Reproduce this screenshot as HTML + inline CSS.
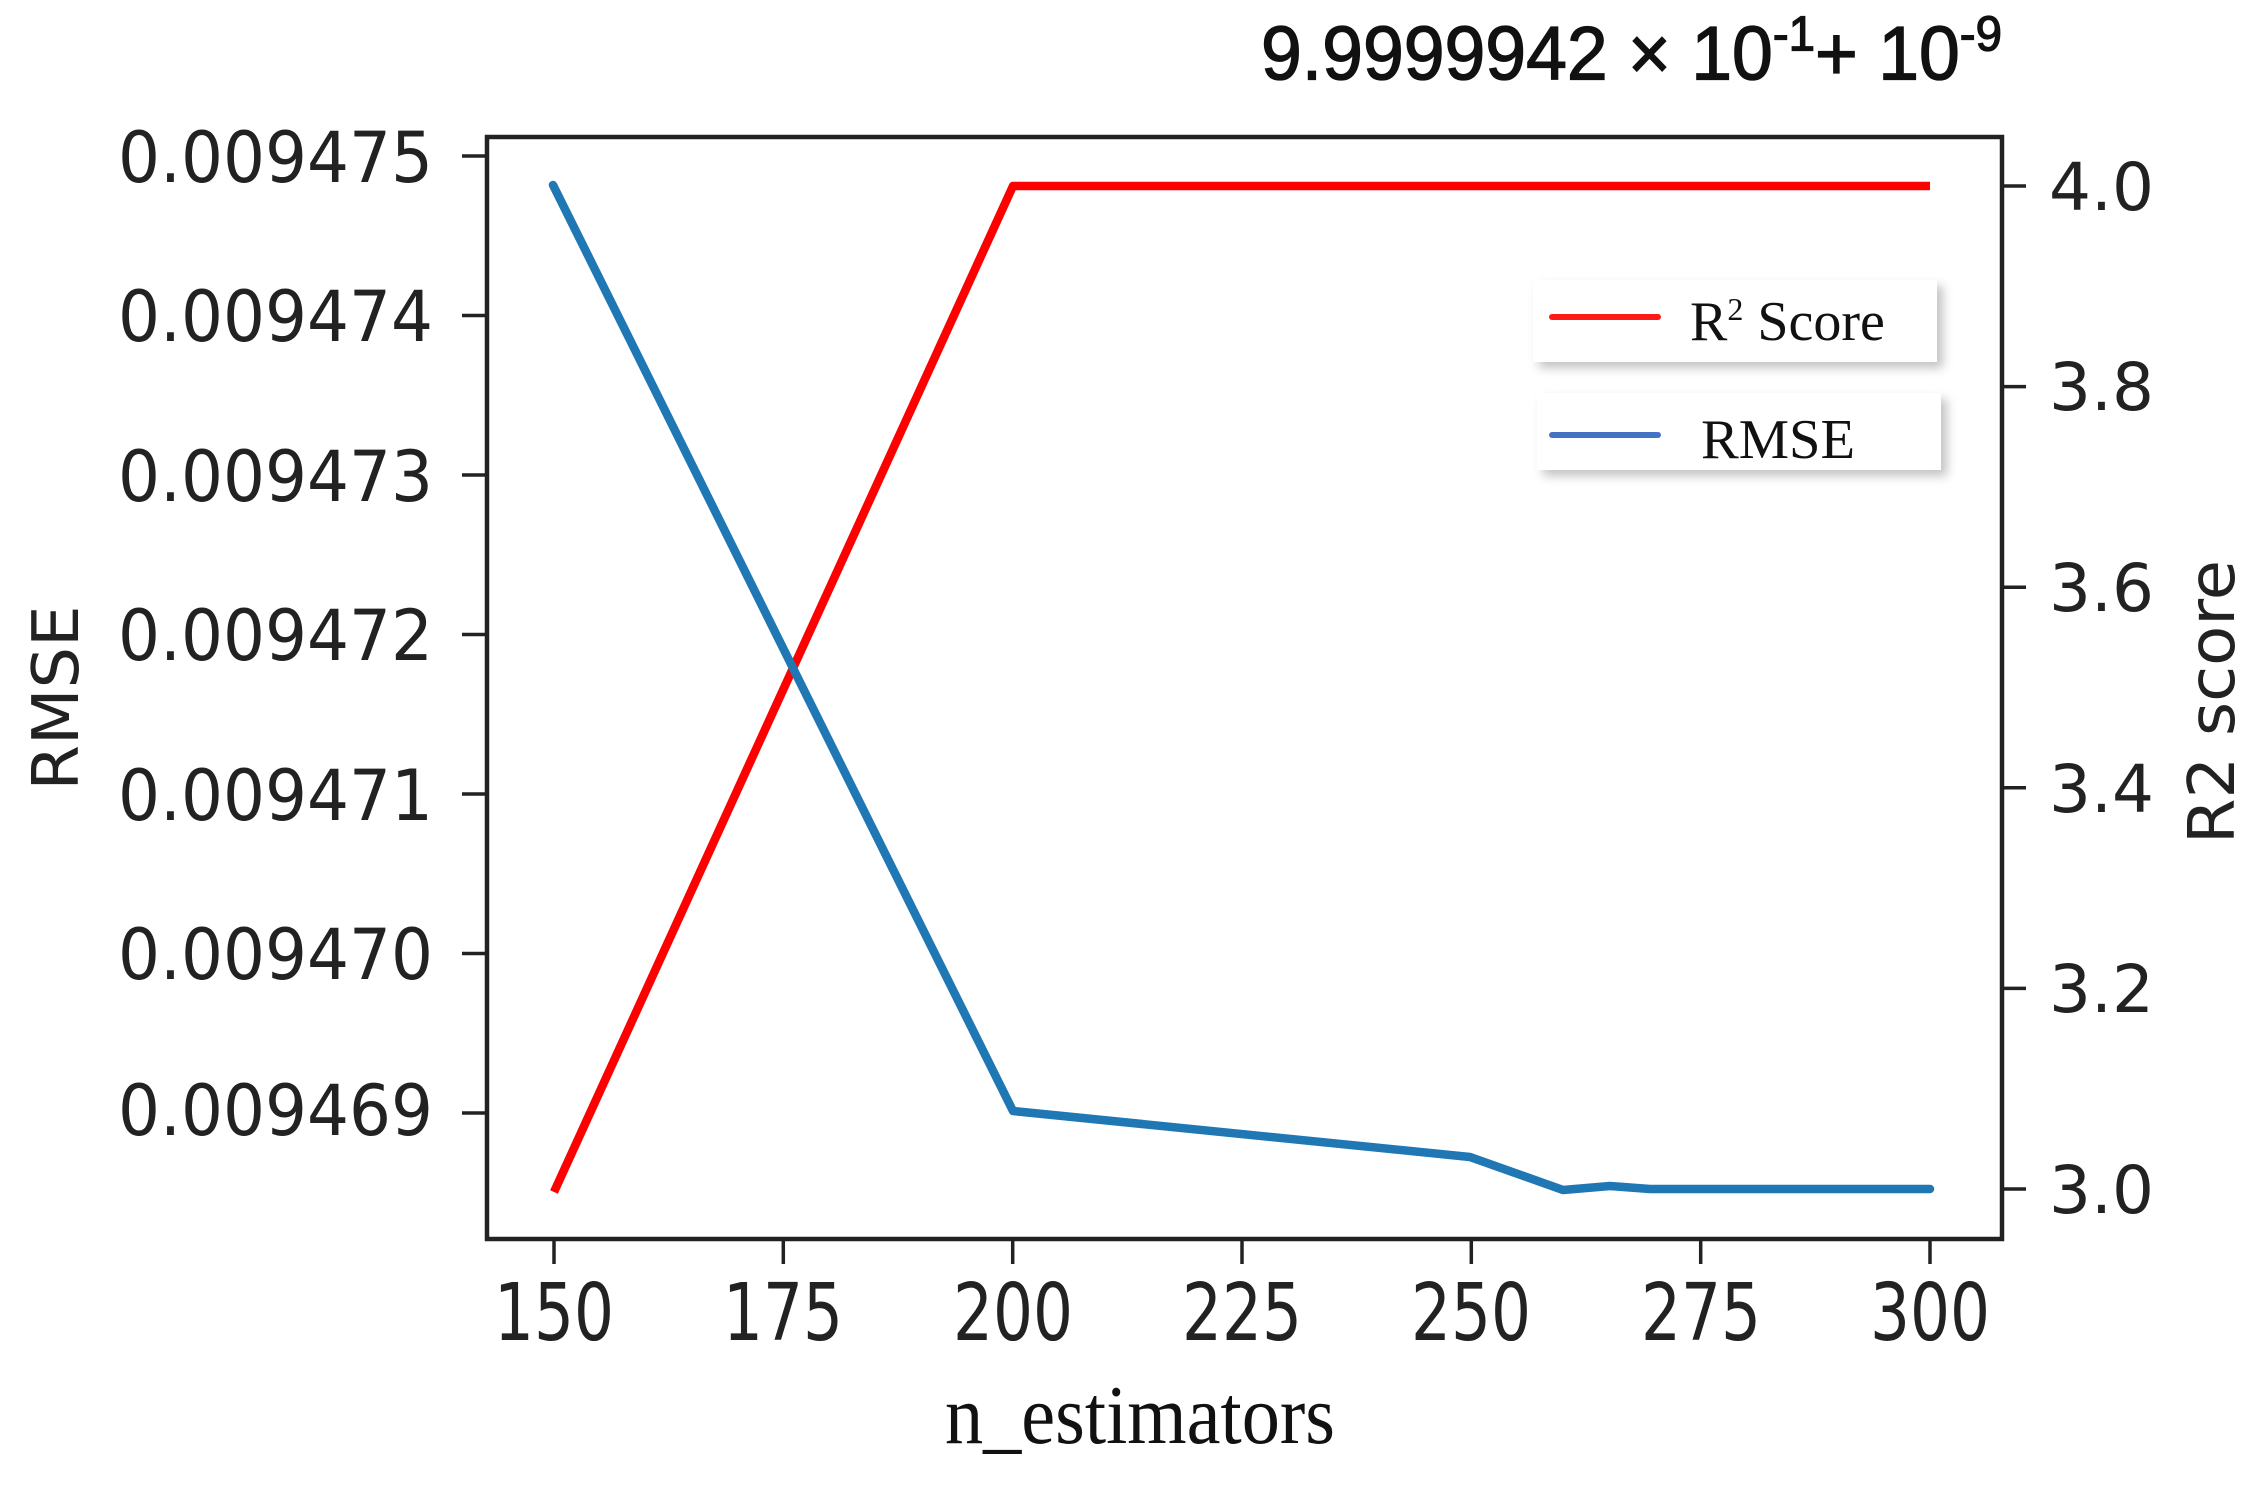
<!DOCTYPE html>
<html><head><meta charset="utf-8"><style>
html,body{margin:0;padding:0;background:#fff;}
svg{display:block;}
</style></head><body>
<svg width="2259" height="1485" viewBox="0 0 2259 1485" xmlns="http://www.w3.org/2000/svg">
<defs>
<filter id="sh" x="-10%" y="-20%" width="130%" height="160%"><feGaussianBlur stdDeviation="5"/></filter>
</defs>
<!-- exponent label -->
<g transform="translate(0,82) scale(1,1.12) translate(0,-82)">
<text x="1261" y="80" font-family="Liberation Sans, sans-serif" font-size="68" fill="#111" stroke="#111" stroke-width="1.2" textLength="741" lengthAdjust="spacingAndGlyphs">9.9999942 × 10<tspan dy="-26" font-size="44">-1</tspan><tspan dy="26">+ 10</tspan><tspan dy="-26" font-size="44">-9</tspan></text>
</g>

<!-- series -->
<polyline points="554,1192 1013,186 1930,186" fill="none" stroke="#ff0000" stroke-width="8.5" stroke-linejoin="round"/>
<polyline points="553,185 1013,1111 1470,1157 1563,1190 1610,1186 1650,1189 1930,1189" fill="none" stroke="#1f77b4" stroke-width="8.5" stroke-linejoin="round" stroke-linecap="round"/>

<!-- axes box -->
<rect x="487" y="137" width="1515" height="1102" fill="none" stroke="#222" stroke-width="4.5"/>

<!-- left ticks and labels -->
<g stroke="#222" stroke-width="3.5">
<line x1="462" y1="156" x2="487" y2="156"/><line x1="462" y1="315.5" x2="487" y2="315.5"/>
<line x1="462" y1="475" x2="487" y2="475"/><line x1="462" y1="634.5" x2="487" y2="634.5"/>
<line x1="462" y1="794" x2="487" y2="794"/><line x1="462" y1="953.5" x2="487" y2="953.5"/>
<line x1="462" y1="1113" x2="487" y2="1113"/>
</g>
<g font-family="DejaVu Sans, sans-serif" font-size="70" fill="#222" text-anchor="end">
<text x="433" y="182" textLength="315" lengthAdjust="spacingAndGlyphs">0.009475</text>
<text x="433" y="341" textLength="315" lengthAdjust="spacingAndGlyphs">0.009474</text>
<text x="433" y="501" textLength="315" lengthAdjust="spacingAndGlyphs">0.009473</text>
<text x="433" y="660" textLength="315" lengthAdjust="spacingAndGlyphs">0.009472</text>
<text x="433" y="820" textLength="315" lengthAdjust="spacingAndGlyphs">0.009471</text>
<text x="433" y="979" textLength="315" lengthAdjust="spacingAndGlyphs">0.009470</text>
<text x="433" y="1135" textLength="315" lengthAdjust="spacingAndGlyphs">0.009469</text>
</g>

<!-- right ticks and labels -->
<g stroke="#222" stroke-width="3.5">
<line x1="2002" y1="186" x2="2026" y2="186"/><line x1="2002" y1="386.6" x2="2026" y2="386.6"/>
<line x1="2002" y1="587.2" x2="2026" y2="587.2"/><line x1="2002" y1="787.8" x2="2026" y2="787.8"/>
<line x1="2002" y1="988.4" x2="2026" y2="988.4"/><line x1="2002" y1="1189" x2="2026" y2="1189"/>
</g>
<g font-family="DejaVu Sans, sans-serif" font-size="66" fill="#222">
<text x="2049" y="210">4.0</text><text x="2049" y="410">3.8</text>
<text x="2049" y="611">3.6</text><text x="2049" y="812">3.4</text>
<text x="2049" y="1012">3.2</text><text x="2049" y="1213">3.0</text>
</g>

<!-- x ticks and labels -->
<g stroke="#222" stroke-width="3.5">
<line x1="554" y1="1239" x2="554" y2="1264"/><line x1="783.3" y1="1239" x2="783.3" y2="1264"/>
<line x1="1012.7" y1="1239" x2="1012.7" y2="1264"/><line x1="1242" y1="1239" x2="1242" y2="1264"/>
<line x1="1471.3" y1="1239" x2="1471.3" y2="1264"/><line x1="1700.7" y1="1239" x2="1700.7" y2="1264"/>
<line x1="1930" y1="1239" x2="1930" y2="1264"/>
</g>
<g transform="translate(0,1340) scale(1,1.2) translate(0,-1340)" font-family="DejaVu Sans, sans-serif" font-size="66" fill="#222" text-anchor="middle">
<text x="554" y="1340" textLength="120" lengthAdjust="spacingAndGlyphs">150</text>
<text x="783" y="1340" textLength="120" lengthAdjust="spacingAndGlyphs">175</text>
<text x="1013" y="1340" textLength="120" lengthAdjust="spacingAndGlyphs">200</text>
<text x="1242" y="1340" textLength="120" lengthAdjust="spacingAndGlyphs">225</text>
<text x="1471" y="1340" textLength="120" lengthAdjust="spacingAndGlyphs">250</text>
<text x="1701" y="1340" textLength="120" lengthAdjust="spacingAndGlyphs">275</text>
<text x="1930" y="1340" textLength="120" lengthAdjust="spacingAndGlyphs">300</text>
</g>

<!-- axis titles -->
<text transform="translate(78,698) rotate(-90)" font-family="DejaVu Sans, sans-serif" font-size="64" fill="#222" text-anchor="middle" textLength="185" lengthAdjust="spacingAndGlyphs">RMSE</text>
<text transform="translate(2234,702) rotate(-90)" font-family="DejaVu Sans, sans-serif" font-size="64" fill="#222" text-anchor="middle" textLength="284" lengthAdjust="spacingAndGlyphs">R2 score</text>
<g transform="translate(0,1443) scale(1,1.2) translate(0,-1443)">
<text x="1140" y="1443" font-family="Liberation Serif, serif" font-size="70" fill="#111" text-anchor="middle" textLength="390" lengthAdjust="spacingAndGlyphs">n_estimators</text>
</g>

<!-- legend -->
<rect x="1539" y="286" width="404" height="82" fill="#888" opacity="0.5" filter="url(#sh)"/>
<rect x="1533" y="280" width="404" height="82" fill="#fff"/>
<rect x="1543" y="399" width="404" height="77" fill="#888" opacity="0.5" filter="url(#sh)"/>
<rect x="1537" y="393" width="404" height="77" fill="#fff"/>
<line x1="1552" y1="317" x2="1658" y2="317" stroke="#ff1a1a" stroke-width="6" stroke-linecap="round"/>
<line x1="1552" y1="435" x2="1658" y2="435" stroke="#4472c4" stroke-width="6" stroke-linecap="round"/>
<text x="1690" y="340" font-family="Liberation Serif, serif" font-size="56" fill="#111">R<tspan dy="-20" font-size="32">2</tspan><tspan dy="20"> Score</tspan></text>
<text x="1701" y="458" font-family="Liberation Serif, serif" font-size="56" fill="#111" textLength="154" lengthAdjust="spacingAndGlyphs">RMSE</text>
</svg>
</body></html>
